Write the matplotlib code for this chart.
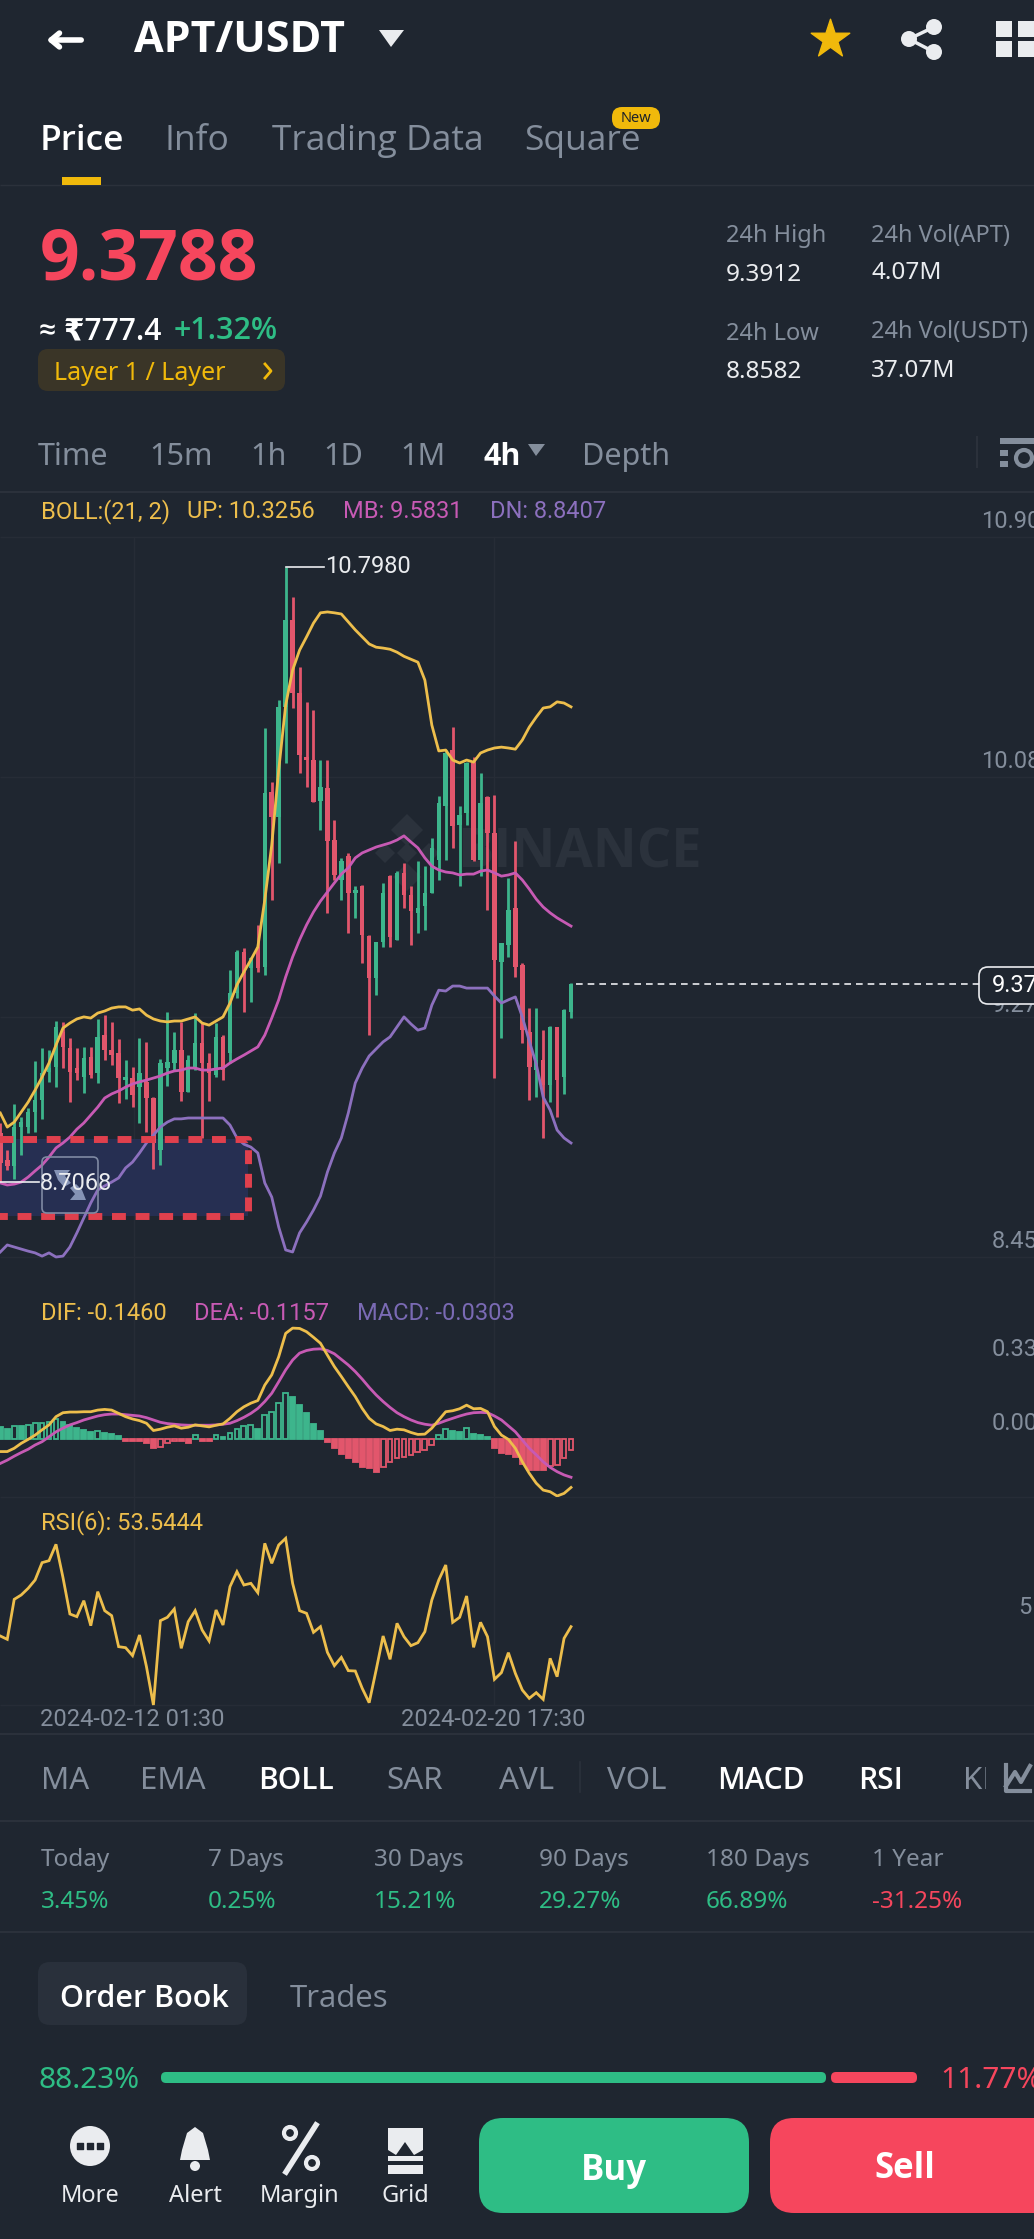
import matplotlib
matplotlib.use("Agg")
import numpy as np
import matplotlib.pyplot as plt
from matplotlib.patches import Rectangle, FancyBboxPatch, Circle, Polygon

# Candles, oldest first (4h APT/USDT)
opens = [8.871, 8.780, 8.758, 8.894, 8.894, 8.945, 8.985, 9.081, 9.098, 9.217,
         9.160, 9.092, 9.064, 9.132, 9.075, 9.206, 9.155, 9.143, 9.053, 9.058,
         9.030, 9.047, 8.990, 8.815, 9.092, 9.109, 9.155, 9.013, 9.098, 9.177,
         9.109, 9.070, 9.200, 9.143, 9.347, 9.489, 9.433, 9.505, 9.437, 10.032,
         9.947, 10.321, 10.617, 10.369, 10.151, 10.141, 10.000, 10.045, 9.869, 9.733,
         9.813, 9.688, 9.711, 9.541, 9.399, 9.523, 9.745, 9.529, 9.756, 9.682,
         9.620, 9.643, 9.688, 9.801, 9.983, 10.176, 9.920, 9.960, 10.130, 9.801,
         10.015, 9.892, 9.455, 9.512, 9.637, 9.444, 9.217, 9.087, 9.121, 9.036,
         9.232, 9.064, 9.285]
closes = [8.769, 8.758, 8.894, 8.911, 8.945, 8.985, 9.075, 9.092, 9.234, 9.166,
          9.081, 9.075, 9.126, 9.070, 9.200, 9.155, 9.138, 9.058, 9.064, 9.002,
          9.075, 8.990, 8.837, 9.109, 9.115, 9.155, 9.013, 9.121, 9.177, 9.109,
          9.075, 9.200, 9.087, 9.347, 9.489, 9.416, 9.467, 9.433, 10.029, 9.947,
          10.321, 10.617, 10.369, 10.158, 10.141, 9.998, 10.051, 9.864, 9.750, 9.796,
          9.688, 9.699, 9.546, 9.399, 9.523, 9.688, 9.540, 9.756, 9.682, 9.626,
          9.637, 9.688, 9.841, 9.994, 10.164, 9.915, 9.954, 10.130, 9.801, 9.994,
          9.892, 9.461, 9.518, 9.631, 9.438, 9.223, 9.098, 9.121, 9.036, 9.234,
          9.053, 9.291, 9.379]
highs = [8.905, 8.815, 8.971, 8.928, 8.956, 9.118, 9.160, 9.155, 9.254, 9.251,
         9.194, 9.160, 9.166, 9.166, 9.259, 9.274, 9.251, 9.191, 9.121, 9.095,
         9.194, 9.180, 8.996, 9.123, 9.285, 9.214, 9.251, 9.138, 9.279, 9.245,
         9.143, 9.245, 9.206, 9.427, 9.493, 9.503, 9.472, 9.580, 10.250, 10.066,
         10.345, 10.798, 10.696, 10.458, 10.338, 10.311, 10.142, 10.142, 9.937, 9.807,
         9.824, 9.711, 9.716, 9.546, 9.523, 9.722, 9.750, 9.762, 9.790, 9.711,
         9.796, 9.779, 9.875, 10.017, 10.176, 10.255, 9.983, 10.136, 10.153, 10.096,
         10.017, 10.022, 9.518, 9.739, 9.864, 9.450, 9.296, 9.296, 9.223, 9.236,
         9.234, 9.293, 9.384]
lows = [8.701, 8.747, 8.715, 8.797, 8.871, 8.877, 8.919, 9.047, 9.030, 9.092,
        8.979, 9.053, 9.007, 9.058, 9.041, 9.121, 9.104, 8.973, 8.987, 8.962,
        8.905, 8.877, 8.749, 8.763, 9.032, 9.087, 8.981, 9.010, 9.087, 8.854,
        8.981, 9.064, 9.053, 9.109, 9.330, 9.285, 9.319, 9.420, 9.410, 9.665,
        9.791, 10.131, 10.318, 10.097, 10.049, 9.998, 9.903, 9.620, 9.733, 9.665,
        9.552, 9.603, 9.450, 9.206, 9.342, 9.506, 9.506, 9.527, 9.637, 9.512,
        9.552, 9.563, 9.688, 9.733, 9.801, 9.841, 9.711, 9.920, 9.799, 9.745,
        9.631, 9.058, 9.194, 9.472, 9.402, 9.177, 8.985, 8.996, 8.854, 8.979,
        8.928, 9.005, 9.262]

# Bollinger bands
boll_up = [8.940, 8.892, 8.909, 8.943, 8.977, 9.018, 9.062, 9.110, 9.171, 9.229,
           9.246, 9.260, 9.267, 9.263, 9.280, 9.287, 9.297, 9.301, 9.301, 9.290,
           9.294, 9.273, 9.260, 9.253, 9.250, 9.253, 9.253, 9.260, 9.267, 9.246,
           9.239, 9.253, 9.267, 9.314, 9.376, 9.420, 9.461, 9.505, 9.665, 9.852,
           10.107, 10.328, 10.447, 10.515, 10.560, 10.607, 10.642, 10.645, 10.642, 10.638,
           10.611, 10.584, 10.560, 10.536, 10.525, 10.522, 10.518, 10.508, 10.494, 10.484,
           10.474, 10.413, 10.260, 10.172, 10.175, 10.141, 10.131, 10.141, 10.134, 10.165,
           10.175, 10.182, 10.185, 10.182, 10.178, 10.209, 10.253, 10.287, 10.318, 10.322,
           10.339, 10.335, 10.322]
boll_mb = [8.702, 8.695, 8.698, 8.705, 8.722, 8.743, 8.763, 8.790, 8.821, 8.838,
           8.858, 8.885, 8.906, 8.933, 8.960, 8.991, 9.005, 9.015, 9.028, 9.039,
           9.046, 9.052, 9.059, 9.066, 9.076, 9.083, 9.086, 9.093, 9.093, 9.086,
           9.086, 9.090, 9.093, 9.110, 9.124, 9.137, 9.151, 9.165, 9.205, 9.263,
           9.325, 9.403, 9.471, 9.529, 9.580, 9.624, 9.661, 9.692, 9.723, 9.753,
           9.774, 9.808, 9.825, 9.835, 9.845, 9.852, 9.859, 9.869, 9.883, 9.862,
           9.842, 9.808, 9.780, 9.767, 9.760, 9.757, 9.750, 9.753, 9.753, 9.763,
           9.767, 9.757, 9.746, 9.750, 9.757, 9.733, 9.702, 9.668, 9.641, 9.621,
           9.604, 9.590, 9.576]
boll_dn = [8.467, 8.491, 8.484, 8.477, 8.470, 8.464, 8.453, 8.464, 8.450, 8.453,
           8.484, 8.532, 8.583, 8.634, 8.678, 8.692, 8.705, 8.719, 8.753, 8.773,
           8.804, 8.838, 8.865, 8.892, 8.909, 8.920, 8.920, 8.923, 8.923, 8.923,
           8.923, 8.923, 8.923, 8.899, 8.855, 8.834, 8.824, 8.804, 8.702, 8.654,
           8.552, 8.474, 8.467, 8.532, 8.569, 8.610, 8.657, 8.739, 8.804, 8.855,
           8.940, 9.042, 9.093, 9.134, 9.158, 9.182, 9.199, 9.233, 9.267, 9.243,
           9.222, 9.229, 9.307, 9.358, 9.355, 9.372, 9.372, 9.365, 9.365, 9.365,
           9.365, 9.338, 9.314, 9.325, 9.335, 9.267, 9.185, 9.107, 8.994, 8.950,
           8.882, 8.855, 8.838]

# MACD pane
dif = [-.038, -.038, -.028, -.013, -.001, .012, .028, .043, .068, .080,
       .082, .082, .083, .083, .088, .090, .088, .078, .068, .061,
       .056, .048, .026, .030, .036, .040, .033, .036, .043, .040,
       .037, .042, .046, .063, .083, .098, .109, .117, .164, .195,
       .250, .321, .337, .336, .326, .309, .291, .255, .220, .190,
       .159, .129, .093, .063, .046, .038, .026, .030, .028, .020,
       .014, .015, .033, .058, .083, .086, .092, .103, .092, .093,
       .083, .038, .012, -.001, -.028, -.069, -.104, -.134, -.155, -.160,
       -.173, -.165, -.147]
dea = [-.074, -.064, -.052, -.041, -.031, -.018, -.008, .007, .022, .033,
       .043, .050, .058, .064, .070, .074, .076, .076, .074, .072,
       .070, .065, .058, .051, .047, .045, .043, .042, .042, .042,
       .042, .043, .045, .048, .056, .066, .078, .093, .114, .139,
       .174, .210, .240, .261, .269, .273, .274, .269, .259, .242,
       .225, .205, .182, .157, .134, .114, .096, .080, .068, .058,
       .050, .045, .042, .048, .056, .063, .070, .076, .080, .081,
       .080, .070, .058, .040, .022, -.003, -.028, -.048, -.069, -.086,
       -.099, -.109, -.116]
macd = [.037, .032, .041, .041, .043, .048, .050, .053, .060, .053,
        .043, .035, .029, .022, .025, .019, .015, .009, -.005, -.005,
        -.006, -.011, -.028, -.023, -.013, -.005, -.007, -.011, .012, -.005,
        -.005, .012, .007, .019, .032, .040, .043, .032, .073, .083,
        .110, .139, .129, .103, .078, .046, .025, -.008, -.028, -.044,
        -.059, -.071, -.084, -.089, -.099, -.084, -.069, -.059, -.054, -.049,
        -.038, -.033, -.018, .012, .032, .025, .022, .035, .015, .012,
        .007, -.028, -.041, -.046, -.054, -.076, -.094, -.094, -.094, -.082,
        -.079, -.059, -.033]

# RSI pane
rsi = [50.8, 49.8, 61.8, 63.1, 65.1, 67.6, 72.8, 73.4, 78.3, 68.4,
       57.4, 56.6, 61.4, 53.9, 64.1, 58.4, 56.9, 47.6, 47.3, 44.9,
       51.1, 41.6, 30.1, 55.4, 56.4, 58.9, 47.1, 55.1, 58.4, 52.6,
       49.3, 58.6, 54.1, 65.6, 70.1, 66.1, 66.6, 63.8, 78.6, 72.6,
       78.1, 80.1, 66.6, 58.4, 57.6, 51.9, 53.6, 45.9, 41.9, 44.4,
       40.4, 40.3, 35.1, 30.8, 40.6, 50.8, 43.8, 54.6, 50.6, 47.9,
       48.8, 52.1, 61.6, 67.6, 72.1, 54.9, 56.4, 62.8, 47.4, 54.9,
       50.6, 37.8, 39.8, 45.8, 39.6, 34.6, 32.1, 33.8, 31.8, 44.1,
       38.6, 50.1, 53.6]

price_ticks = ["10.90", "10.08", "9.27", "8.45"]
macd_ticks = ["0.33", "0.00"]
period_names = ["Today", "7 Days", "30 Days", "90 Days", "180 Days", "1 Year"]
period_values = ["3.45%", "0.25%", "15.21%", "29.27%", "66.89%", "-31.25%"]
buy_share = 88.23
sell_share = 11.77

W, H = 1034, 2239
BG = "#1F2630"
GREEN = "#2EBD85"
RED = "#F6465D"
GOLD = "#F0B90B"
GREY = "#848E9C"
WHITE = "#EAECEF"
LINE = "#2B313B"
FAINT = "#262C36"
C_UP = "#EDBE4C"
C_MB = "#C75AB4"
C_DN = "#8C70BE"
C_GREEN = "#3DB58C"
C_RED = "#E2566C"
LW = 2.0

plt.rcParams["font.family"] = ["Noto Sans", "DejaVu Sans"]

fig = plt.figure(figsize=(W / 100, H / 100), dpi=100, facecolor=BG)


def pane(top, bottom, z=1):
    ax = fig.add_axes([0, 1 - bottom / H, 1, (bottom - top) / H], zorder=z)
    ax.patch.set_visible(False)
    ax.axis("off")
    return ax


ui = pane(0, H, 0)
ui.set_xlim(0, W)
ui.set_ylim(H, 0)
over = pane(0, H, 5)
over.set_xlim(0, W)
over.set_ylim(H, 0)


def txt(x, y, s, size=15, color=WHITE, weight="normal", ha="left", ax=ui, family=None, z=6):
    # heavier text comes from Open Sans, the Noto install is regular only
    if family is None:
        family = ["Noto Sans", "DejaVu Sans"] if weight == "normal" else ["Open Sans", "DejaVu Sans"]
        y += 5
    else:
        y += 1
    ax.text(x, y + 3, s, fontsize=size, color=color, fontweight=weight, ha=ha, va="center",
            family=family, zorder=z)


def hline(y, x0=0, x1=W, color=LINE, lw=1.0):
    ui.plot([x0, x1], [y, y], color=color, lw=lw, solid_capstyle="butt")


def rbox(x0, y0, x1, y1, r, fc, ax=ui, ec="none", lw=0, z=2):
    ax.add_patch(FancyBboxPatch((x0 + r, y0 + r), x1 - x0 - 2 * r, y1 - y0 - 2 * r,
                                boxstyle=f"round,pad={r}", fc=fc, ec=ec, lw=lw, zorder=z))


# Header
ui.annotate("", xy=(44, 40), xytext=(84, 40),
            arrowprops=dict(arrowstyle="->,head_width=0.5,head_length=0.6", color="#FFFFFF", lw=4))
txt(134, 33, "APT/USDT", 31, "#FFFFFF", "bold")
ui.add_patch(Polygon([[379, 30], [404, 30], [391, 47]], fc=WHITE, joinstyle="round"))
ui.scatter([830], [39], marker="*", s=850, color=GOLD, zorder=3)
for cx, cy in [(934, 27), (909, 39), (934, 52)]:
    ui.add_patch(Circle((cx, cy), 8, fc=WHITE))
ui.plot([934, 909, 934], [27, 39, 52], color=WHITE, lw=2.5)
for x0, y0 in [(996, 21), (1018, 21), (996, 41), (1018, 41)]:
    ui.add_patch(Rectangle((x0, y0), 16, 16, fc=WHITE))

# Tabs
txt(40, 133, "Price", 25.5, "#FFFFFF", "semibold")
for x, s in [(164, "Info"), (272, "Trading Data"), (524, "Square")]:
    txt(x, 133, s, 25.5, GREY, "medium")
rbox(612, 107, 660, 129, 10, GOLD, z=4)
txt(636, 111, "New", 10.5, "#1E2329", ha="center")
ui.add_patch(Rectangle((62, 177), 39, 8, fc=GOLD, zorder=3))
hline(185)

# Price block
txt(40, 254, "9.3788", 50, RED, "bold")
txt(39, 323, "≈ ₹777.4", 21.5, "#FFFFFF", "semibold")
txt(174, 323, "+1.32%", 22, GREEN, "semibold")
rbox(38, 349, 285, 391, 10, "#3A3527")
txt(54, 366, "Layer 1 / Layer", 18, GOLD)
ui.plot([265, 271, 265], [364, 371, 378], color=GOLD, lw=2)

txt(726, 228, "24h High", 17, GREY)
txt(726, 267, "9.3912", 17.5)
txt(726, 326, "24h Low", 17, GREY)
txt(726, 364, "8.8582", 17.5)
txt(871, 228, "24h Vol(APT)", 17, GREY)
txt(871, 265, "4.07M", 17.5)
txt(871, 324, "24h Vol(USDT)", 17, GREY)
txt(871, 363, "37.07M", 17.5)

# Interval row
for x, s in [(38, "Time"), (149, "15m"), (250, "1h"), (323, "1D"), (400, "1M"), (582, "Depth")]:
    txt(x, 449, s, 22, GREY)
txt(483, 449, "4h", 22, "#FFFFFF", "bold")
ui.add_patch(Polygon([[528, 444], [545, 444], [536, 456]], fc=GREY))
ui.plot([977, 977], [437, 467], color=LINE, lw=1.5)
ui.add_patch(Rectangle((1000, 438), 34, 6, fc=GREY))
ui.add_patch(Rectangle((1000, 450), 8, 6, fc=GREY))
ui.add_patch(Rectangle((1000, 461), 8, 6, fc=GREY))
ui.add_patch(Circle((1024, 458), 8, fc="none", ec=GREY, lw=3))
hline(492, lw=1.5)

# Indicator legends
txt(41, 508, "BOLL:(21, 2)", 17, C_UP, family="Roboto")
txt(187, 508, "UP: 10.3256", 17, C_UP, family="Roboto")
txt(343, 508, "MB: 9.5831", 17, C_MB, family="Roboto")
txt(490, 508, "DN: 8.8407", 17, C_DN, family="Roboto")
txt(41, 1309, "DIF: -0.1460", 17, C_UP, family="Roboto")
txt(194, 1309, "DEA: -0.1157", 17, C_MB, family="Roboto")
txt(357, 1309, "MACD: -0.0303", 17, "#7A6AB4", family="Roboto")
txt(41, 1519, "RSI(6): 53.5444", 17, C_UP, family="Roboto")

# Grid lines
for y in [537, 777, 1017, 1257, 1497, 1705]:
    hline(y, color=FAINT)
for x in [134, 494]:
    ui.plot([x, x], [537, 1705], color=FAINT, lw=1)

# Watermark
txt(702, 845, "BINANCE", 39, "#2B323C", "bold", ha="right", z=1)
for cx, cy, r in [(407, 830, 16), (385, 853, 10), (429, 853, 10), (407, 853, 10), (407, 877, 14)]:
    ui.add_patch(Polygon([[cx, cy - r], [cx + r, cy], [cx, cy + r], [cx - r, cy]], fc="#2B323C"))

# Marked box, fill under the candles
ui.add_patch(Rectangle((-10, 1139), 258, 77, fc="#262F52", ec="none", zorder=3))

# Price pane
idx = np.arange(len(opens))
xlim = (-0.3 / 6.96, (W - 0.3) / 6.96)
ax = pane(537, 1257)
ax.set_xlim(*xlim)
ax.set_ylim(8.45, 10.90)
colors = [C_GREEN if c >= o else C_RED for o, c in zip(opens, closes)]
ax.vlines(idx, lows, highs, colors=colors, lw=2.0, zorder=2)
ax.bar(idx, np.abs(np.array(closes) - np.array(opens)), bottom=np.minimum(opens, closes),
       width=0.65, color=colors, zorder=2)
ax.plot(idx, boll_up, color=C_UP, lw=LW, zorder=3)
ax.plot(idx, boll_mb, color=C_MB, lw=LW, zorder=3)
ax.plot(idx, boll_dn, color=C_DN, lw=LW, zorder=3, clip_on=False)

# Max and min markers
hi = int(np.argmax(highs))
ax.plot([hi, hi + 5.5], [highs[hi], highs[hi]], color=WHITE, lw=1.2, zorder=4)
ax.text(hi + 5.7, highs[hi], "10.7980", color=WHITE, fontsize=17, va="center", family="Roboto", zorder=4)
lo = int(np.argmin(lows[:40]))
ax.plot([lo, lo + 5.6], [8.7068, 8.7068], color=WHITE, lw=1.2, zorder=6)

# Last price marker
ax.plot([idx[-1] + 0.7, 979 / 6.96], [closes[-1], closes[-1]], color=WHITE, lw=1.2, ls=(0, (4, 3)), zorder=4)

# Overlay: dashed box edge, screenshot icon, labels
over.plot([-10, 248, 248, -10], [1139, 1139, 1216, 1216], color="#E0404D", lw=5,
          ls=(0, (2.0, 1.4)), solid_joinstyle="miter")
rbox(42, 1157, 98, 1213, 5, "none", ax=over, ec="#7F8AA3", lw=1.2)
over.add_patch(Polygon([[54, 1170], [70, 1170], [65, 1176], [71, 1183], [64, 1187], [58, 1180]], fc="#8593B5"))
over.add_patch(Polygon([[86, 1200], [70, 1200], [75, 1194], [70, 1188], [76, 1184], [82, 1190]], fc="#8593B5"))
txt(40, 1179, "8.7068", 17, ax=over, family="Roboto")

for y, s in zip([518, 758, 1001, 1237], price_ticks):
    txt(981 if len(s) == 5 else 992, y, s, 17, GREY, family="Roboto")
rbox(979, 967, 1050, 1004, 9, BG, ax=over, ec=WHITE, lw=1.2)
txt(992, 982, "9.3788", 17, "#FFFFFF", ax=over, family="Roboto")

# MACD pane
ax_m = pane(1257, 1497)
ax_m.set_xlim(*xlim)
ax_m.set_ylim(-0.176, 0.553)
# rising bars are drawn hollow
prev = np.array([macd[0]] + macd[:-1])
rising = np.array(macd) > prev
bar_colors = [C_GREEN if v >= 0 else C_RED for v in macd]
ax_m.bar(idx, macd, width=0.7, color=[BG if r else c for r, c in zip(rising, bar_colors)],
         edgecolor=bar_colors, linewidth=1.3, zorder=2)
ax_m.plot(idx, dea, color=C_MB, lw=LW, zorder=3)
ax_m.plot(idx, dif, color=C_UP, lw=LW, zorder=3)
for y, s in zip([1346, 1419], macd_ticks):
    txt(992, y, s, 17, GREY, family="Roboto")

# RSI pane
ax_r = pane(1497, 1705)
ax_r.set_xlim(*xlim)
ax_r.set_ylim(30.1, 92.5)
ax_r.plot(idx, rsi, color=C_UP, lw=LW, clip_on=False, solid_joinstyle="miter")
txt(1018, 1603, "5", 17, GREY, family="Roboto")

txt(40, 1715, "2024-02-12 01:30", 17, GREY, family="Roboto")
txt(401, 1715, "2024-02-20 17:30", 17, GREY, family="Roboto")
hline(1734, lw=1.5)

# Indicator selector
for x, s in [(41, "MA"), (140, "EMA"), (386, "SAR"), (499, "AVL"), (607, "VOL"), (963, "KDJ")]:
    txt(x, 1773, s, 22.5, GREY, z=3)
for x, s in [(258, "BOLL"), (717, "MACD"), (858, "RSI")]:
    txt(x, 1773, s, 21.5, "#FFFFFF", "semibold")
ui.plot([580, 580], [1762, 1792], color=LINE, lw=1.2)
ui.add_patch(Rectangle((986, 1755), 48, 50, fc=BG, zorder=4))
ui.plot([1006, 1006, 1030], [1765, 1791, 1791], color=GREY, lw=3, zorder=5)
ui.plot([1006, 1015, 1021, 1030], [1786, 1772, 1782, 1766], color=GREY, lw=3, zorder=5)
hline(1821, lw=1.5)

# Period performance
for x, name, val in zip([41, 208, 374, 539, 706, 872], period_names, period_values):
    txt(x, 1852, name, 17.5, GREY)
    txt(x, 1894, val, 17.5, RED if val.startswith("-") else GREEN)
hline(1932, lw=1.5)

# Order book
rbox(38, 1962, 247, 2025, 12, "#29303B")
txt(60, 1991, "Order Book", 22, "#FFFFFF", "semibold")
txt(290, 1991, "Trades", 22.5, GREY, "medium")
bar_l, bar_r = 161, 917
split = bar_l + (bar_r - bar_l) * buy_share / 100
rbox(bar_l, 2072, split - 2, 2083, 5, GREEN)
rbox(split + 3, 2072, bar_r, 2083, 5, RED)
txt(39, 2073, f"{buy_share}%", 21.5, GREEN)
txt(940, 2073, f"{sell_share}%", 21.5, RED)

# Bottom bar
ui.add_patch(Circle((90, 2146), 20, fc=WHITE))
ui.scatter([80, 90, 100], [2146, 2146, 2146], s=14, color=BG, marker="s", zorder=3)
ui.add_patch(Polygon([[195, 2127], [203, 2133], [208, 2150], [210, 2160], [180, 2160], [182, 2150], [187, 2133]], fc=WHITE))
ui.add_patch(Circle((195, 2166), 5, fc=WHITE))
ui.plot([286, 316], [2172, 2125], color=WHITE, lw=4)
ui.add_patch(Circle((290, 2133), 6, fc="none", ec=WHITE, lw=3))
ui.add_patch(Circle((312, 2163), 6, fc="none", ec=WHITE, lw=3))
ui.add_patch(Polygon([[388, 2128], [423, 2128], [423, 2150], [414, 2155], [405, 2142], [396, 2155], [388, 2150]], fc=WHITE))
ui.add_patch(Rectangle((388, 2156), 35, 5, fc=WHITE))
ui.add_patch(Rectangle((388, 2165), 35, 9, fc=WHITE))
for x, s in [(90, "More"), (195, "Alert"), (300, "Margin"), (405, "Grid")]:
    txt(x, 2188, s, 17, WHITE, ha="center")
rbox(479, 2118, 749, 2213, 24, GREEN)
rbox(770, 2118, 1060, 2213, 24, RED)
txt(614, 2163, "Buy", 25, "#FFFFFF", "bold", ha="center")
txt(905, 2161, "Sell", 25, "#FFFFFF", "bold", ha="center")

fig.savefig("out.png", dpi=100, facecolor=BG)
